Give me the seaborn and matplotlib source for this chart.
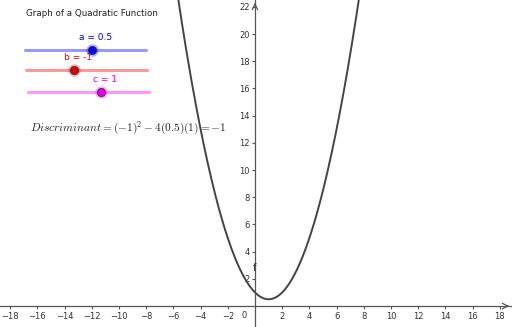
import numpy as np
import pandas as pd
import matplotlib
matplotlib.use("Agg")
import matplotlib.pyplot as plt
import seaborn as sns

# coefficients shown by the sliders
a_val = 0.5
b_val = -1
c_val = 1
slider_min, slider_max = -5, 5
slider_names = ["a", "b", "c"]
slider_values = [a_val, b_val, c_val]
x_ticks = [-18, -16, -14, -12, -10, -8, -6, -4, -2, 2, 4, 6, 8, 10, 12, 14, 16, 18]
y_ticks = [2, 4, 6, 8, 10, 12, 14, 16, 18, 20, 22]

x = np.linspace(-18.75, 18.9, 800)
df = pd.DataFrame({"x": x, "y": a_val * x**2 + b_val * x + c_val})

sns.set_style("white")
fig = plt.figure(figsize=(5.12, 3.27), dpi=100)
ax = fig.add_axes([0, 0, 1, 1])
sns.lineplot(data=df, x="x", y="y", ax=ax, color="#444444", linewidth=1.4)
ax.set_xlim(-18.75, 18.9)
ax.set_ylim(-1.54, 22.5)
ax.set_xlabel("")
ax.set_ylabel("")

for s in ["top", "right"]:
    ax.spines[s].set_visible(False)
ax.spines["left"].set_position(("data", 0))
ax.spines["bottom"].set_position(("data", 0))
for s in ["left", "bottom"]:
    ax.spines[s].set_color("#555555")
    ax.spines[s].set_linewidth(0.9)
ax.set_xticks(x_ticks)
ax.set_yticks(y_ticks)
ax.set_xticklabels([f"\u2212{abs(t)}" if t < 0 else str(t) for t in x_ticks])
ax.tick_params(axis="both", bottom=True, left=True, labelsize=6, colors="#555555",
               labelcolor="#333333", length=2.5, width=0.8, direction="out", pad=1.5)
ax.text(-0.6, -0.35, "0", fontsize=6, color="#333333", ha="right", va="top")
ax.annotate("", xy=(0, 22.5), xytext=(0, 21.9),
            arrowprops=dict(arrowstyle="->", color="#555555", lw=0.9))
ax.annotate("", xy=(18.9, 0), xytext=(18.3, 0),
            arrowprops=dict(arrowstyle="->", color="#555555", lw=0.9))
ax.text(-0.05, 2.8, "f", fontsize=7, color="#333333", ha="center", va="center")

W, H = 512, 327
def P(px, py):
    return px / W, 1 - py / H

ax.text(*P(92, 14), "Graph of a Quadratic Function", transform=ax.transAxes,
        fontsize=6.3, color="#222222", ha="center", va="center")

slider_cfg = [
    (25, 146, 50, "#9999ff", "#0000ff"),
    (26, 147, 70, "#ff9999", "#dd0000"),
    (28, 149, 92, "#ff99ff", "#dd00dd"),
]
for name, val, (x0, x1, py, lc, pc) in zip(slider_names, slider_values, slider_cfg):
    frac = (val - slider_min) / (slider_max - slider_min)
    pxp = x0 + frac * (x1 - x0)
    ax.plot([P(x0, py)[0], P(x1, py)[0]], [P(x0, py)[1]] * 2, transform=ax.transAxes,
            color=lc, lw=2.2, solid_capstyle="round")
    ax.plot(*P(pxp, py), "o", transform=ax.transAxes, ms=9, color=pc, alpha=0.3, mec="none")
    ax.plot(*P(pxp, py), "o", transform=ax.transAxes, ms=6, color=pc, mec="#333333", mew=0.5)
    lab = f"{name} = {val:g}"
    ax.text(*P(pxp + 4, py - 12), lab, transform=ax.transAxes, fontsize=6.5, color=pc,
            ha="center", va="center")

ax.text(*P(30, 128),
        r"$Discriminant = (-1)^2 - 4(0.5)(1) = -1$",
        transform=ax.transAxes, fontsize=8.2, color="#222222", ha="left", va="center",
        math_fontfamily="cm")

fig.savefig("out.png", dpi=100)
